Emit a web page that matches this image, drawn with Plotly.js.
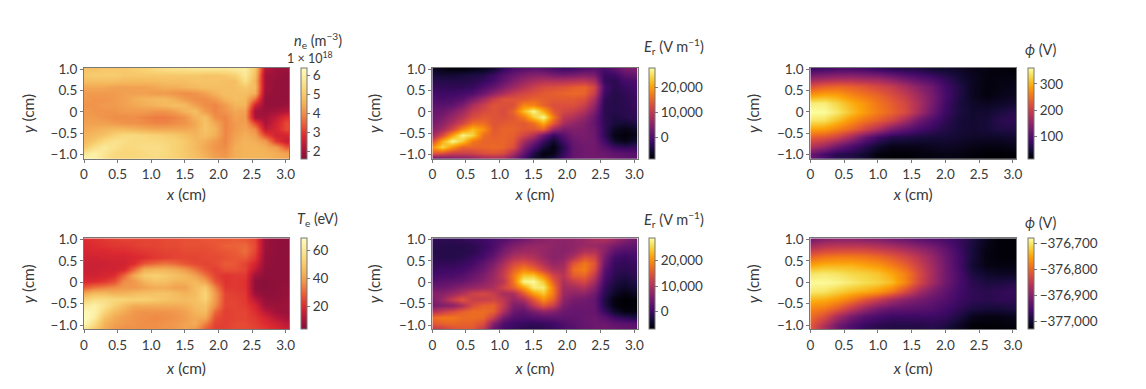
<!DOCTYPE html>
<html><head><meta charset="utf-8">
<script src="https://cdn.plot.ly/plotly-3.0.1.min.js"></script>
<style>html,body{margin:0;padding:0;background:#fff}#c{width:1146px;height:389px}</style>
</head><body><div id="c"></div>
<script>
const xsFine=[0,.15,.3,.45,.6,.75,.9,1.05,1.2,1.35,1.5,1.65,1.8,1.95,2.1,2.25,2.4,2.55,2.7,2.85,3];
const ysFine=[1,.86,.72,.58,.44,.3,.16,.02,-.12,-.26,-.4,-.54,-.68,-.82,-.96,-1.1];
const xsCoarse=[0,.2,.4,.6,.8,1,1.2,1.4,1.6,1.8,2,2.2,2.4,2.6,2.8,3];
const ysCoarse=[1,.8,.6,.4,.2,0,-.2,-.4,-.6,-.8,-1];
const neValues=[
[4.9,4.9,5.0,5.0,5.0,5.1,5.2,5.4,5.5,5.6,5.6,5.7,5.7,5.7,5.7,5.8,5.9,5.0,2.2,1.9,1.9],
[5.0,5.1,5.1,5.1,5.0,5.0,5.0,5.0,5.0,5.0,5.0,5.0,4.9,4.9,5.0,5.2,5.8,4.8,2.0,1.9,1.8],
[4.8,4.8,4.8,4.8,4.7,4.7,4.7,4.7,4.8,4.8,4.8,4.9,4.9,4.9,4.8,4.8,5.5,4.6,2.0,1.8,1.8],
[4.4,4.4,4.4,4.3,4.3,4.3,4.3,4.4,4.5,4.5,4.6,4.7,4.8,4.8,4.8,4.8,5.0,4.7,2.0,1.8,1.8],
[4.2,4.2,4.2,4.2,4.3,4.3,4.3,4.2,4.2,4.1,4.0,4.1,4.3,4.6,4.8,4.8,4.8,4.5,1.9,1.8,1.8],
[4.2,4.1,4.1,4.2,4.3,4.5,4.6,4.7,4.7,4.5,4.2,4.0,4.0,4.2,4.6,4.8,4.7,3.6,1.8,1.8,1.8],
[4.1,4.1,4.2,4.2,4.3,4.4,4.5,4.6,4.7,4.8,4.7,4.3,4.0,3.9,4.2,4.6,4.6,2.6,1.8,1.8,1.9],
[4.2,4.1,4.1,4.1,4.2,4.2,4.2,4.1,4.1,4.3,4.6,4.8,4.2,3.9,4.1,4.4,4.3,2.0,1.9,2.0,2.2],
[4.2,4.2,4.1,4.0,4.0,4.0,3.9,3.8,3.8,3.9,4.1,4.6,4.8,4.0,3.9,4.3,4.2,2.1,2.0,2.4,2.9],
[4.3,4.3,4.3,4.2,4.1,4.1,4.0,3.9,3.9,4.0,4.1,4.4,4.9,4.4,3.9,4.2,4.3,3.2,2.1,2.6,3.2],
[4.4,4.5,4.6,4.7,4.7,4.6,4.5,4.4,4.4,4.4,4.4,4.5,4.9,4.6,3.9,4.2,4.4,4.0,2.4,2.7,3.2],
[4.6,4.7,4.9,5.2,5.4,5.4,5.3,5.2,5.1,5.0,4.8,4.6,4.8,4.5,3.9,4.3,4.5,4.3,3.2,2.6,2.7],
[4.7,5.0,5.4,5.6,5.5,5.4,5.4,5.4,5.3,5.2,5.0,4.7,4.5,4.2,3.9,4.4,4.6,4.5,4.2,3.0,2.5],
[5.0,5.5,5.8,5.6,5.4,5.4,5.5,5.5,5.4,5.2,5.0,4.7,4.4,4.1,4.0,4.5,4.6,4.6,4.5,4.2,3.4],
[5.7,6.0,5.7,5.4,5.3,5.3,5.4,5.5,5.4,5.2,5.0,4.8,4.5,4.2,4.1,4.5,4.6,4.6,4.6,4.5,4.3],
[6.2,6.0,5.6,5.3,5.3,5.3,5.4,5.4,5.3,5.2,5.0,4.8,4.6,4.3,4.2,4.5,4.6,4.6,4.6,4.5,4.4]];
const teValues=[
[20,21,22,23,24,24,24,24,25,25,26,26,27,27,27,28,27,24,7,5,5],
[19,20,21,22,22,23,24,24,25,25,26,26,26,27,29,29,30,25,7,5,5],
[18,19,19,20,20,21,22,23,24,24,25,25,25,26,27,28,31,24,7,5,5],
[17,17,18,18,18,19,20,22,23,24,24,24,25,25,26,27,28,22,6,5,5],
[16,16,16,17,17,20,27,30,32,30,27,25,24,25,28,27,24,18,6,5,5],
[16,16,17,17,19,30,42,44,44,42,38,32,26,23,26,26,24,14,5,5,5],
[17,17,18,20,30,42,50,52,50,47,45,40,32,24,21,22,22,8,5,5,5],
[19,20,22,26,36,38,44,48,47,44,44,45,40,27,21,22,21,5,4,5,5],
[28,32,34,36,38,38,40,42,42,40,40,46,50,34,22,22,21,5,4,5,6],
[42,46,46,44,44,46,47,48,48,46,44,46,53,38,24,23,22,7,5,5,6],
[52,56,56,54,53,52,52,50,48,47,46,47,52,38,24,24,22,13,6,6,7],
[60,63,58,52,46,42,42,42,42,42,43,46,48,36,24,24,23,18,8,7,7],
[66,64,54,46,42,38,37,37,37,38,40,44,46,30,23,24,24,20,13,8,7],
[68,62,48,42,39,37,36,35,36,37,39,42,42,26,23,24,24,22,18,12,9],
[66,56,44,40,38,37,36,36,37,38,40,42,34,24,23,25,25,23,20,17,13],
[58,50,42,38,36,36,36,36,37,38,40,38,28,23,23,25,25,24,22,19,16]];
const erTopValues=[
[-6000,-7000,-7500,-7500,-7000,-6500,-5000,-2000,0,1000,1500,1000,0,-1000,-500,500,1000,-500,1000,3500,4000],
[-4500,-5000,-5000,-4500,-4000,-3500,-1500,500,2500,4000,5000,5000,4000,3500,4000,5000,4000,-2000,-1500,1000,2000],
[-3000,-3500,-3500,-3500,-3000,-2000,-500,2000,4500,6500,8000,9000,9000,9000,9500,10000,8000,-2000,-3000,-1000,-500],
[-2000,-2500,-2500,-2500,-2000,0,2000,4500,7000,9000,11000,12500,13000,13500,14500,15000,12000,-500,-3000,-2000,-1000],
[-1000,-1500,-1500,-1000,0,2500,5500,8000,10500,12000,13000,14000,14500,15000,15500,15000,11000,-1500,-3500,-2500,-1500],
[0,-500,0,1000,4000,7500,11000,13500,13500,14000,15000,14500,14000,14000,14000,13000,8000,-2500,-3500,-3000,-2000],
[1000,1000,1500,4000,8000,11000,13500,13000,13000,18000,18000,15000,13000,13000,13000,11000,6000,-3000,-3500,-3000,-2000],
[2000,2500,4500,7000,10500,12500,13500,12500,15000,22000,27000,21000,14000,12000,11000,8500,4000,-3000,-3500,-3000,-2500],
[2500,4000,6500,9000,12500,14000,13500,13000,14000,17000,23000,27000,17000,10000,8500,6000,2500,-3000,-4000,-3500,-2500],
[3500,5500,8500,12000,16000,16000,13500,14000,14500,14000,16000,21000,14000,8000,6000,4500,2000,-2500,-4500,-5000,-4000],
[5000,7500,12000,18000,22000,19000,14000,15000,15000,14000,14000,15000,7000,4000,4500,4000,2500,-2500,-6000,-7000,-6000],
[7000,12500,20000,26500,24000,16000,14500,15000,14500,12000,9000,3000,-2000,1000,3500,3800,2800,-2500,-7000,-8000,-7000],
[12500,21000,27000,23000,17000,15000,15000,15000,14000,8000,3500,-1500,-5500,-1000,2500,3500,3000,-1000,-5500,-7000,-5500],
[19000,24000,19000,15000,15000,15000,15500,15000,13000,5000,0,-4500,-7500,-3000,2000,3000,3000,1000,-1500,-2500,-2000],
[14000,13000,11000,11000,11500,13000,13500,12500,8000,2000,-3500,-7500,-7000,-2000,2000,3000,3000,2500,1500,1000,500],
[1000,2000,3000,3500,4500,6000,7000,6500,3500,-1000,-5500,-6500,-4000,-500,2000,3000,3000,3000,2500,2000,1500]];
const erBottomValues=[
[-1000,-1500,-1500,-1000,-500,0,1000,2000,3500,4500,6000,6500,7000,7000,7000,8000,9000,9500,8000,6000,4500],
[-1500,-2000,-2000,-2000,-1500,-500,1000,3500,5500,7000,7500,7500,7000,6500,7000,8000,8000,7000,5000,3500,3000],
[-2000,-2000,-2000,-2000,-1500,0,2000,5000,7500,8500,8500,7500,6500,6500,7500,10000,10000,6500,2500,1500,1500],
[-1500,-2000,-2000,-1500,-500,1000,3500,7000,10000,11000,10000,8000,6500,7000,10000,14500,13000,5000,500,-500,500],
[-1000,-1000,-1000,-500,500,3000,5500,9500,13500,15000,13000,10000,7500,8500,15000,18000,15000,4000,-500,-1000,-500],
[-500,0,0,500,2000,4000,7000,11000,16000,19000,17000,13000,9500,9500,17000,18500,14000,2500,-1000,-1500,-1000],
[500,1000,1000,2000,3500,5500,8000,12000,18000,24000,24000,19000,13000,10500,15500,16500,11500,1500,-1500,-2500,-1500],
[2000,2500,3000,3500,5000,6500,8500,11000,18000,28000,28500,24000,15500,9500,12000,13500,9000,500,-2500,-3500,-2500],
[4000,4000,5000,6500,7500,8500,9500,13000,16000,21000,27000,27000,18000,8500,9000,10000,6500,-500,-3500,-4500,-3500],
[6000,6500,8000,10000,12500,13500,12000,9000,9500,15000,21000,24000,18000,8000,7000,7000,4500,-1500,-4500,-6000,-5000],
[5500,8000,12000,15000,12000,12000,13000,11000,7500,9500,15000,20000,16000,7000,5000,4500,3500,-2500,-6000,-6900,-6500],
[4500,6000,6500,9500,14000,16000,16000,11500,5500,5500,11000,15000,12000,5500,4000,4000,3500,-2000,-6000,-6800,-6500],
[10000,12000,14000,16000,17000,17000,16000,9500,4000,3000,5000,7000,6000,4000,3500,3500,3500,-500,-4000,-6000,-6000],
[17000,18000,18000,17000,17000,16500,12000,5000,2000,1500,2000,2500,3000,3000,3000,3800,4000,2500,0,-1500,-2500],
[15000,16000,16500,16000,16000,14000,6000,1500,0,-500,-1000,-500,0,1500,2500,3500,4000,4000,3000,2500,2000],
[11000,12000,14000,15000,15000,11000,3500,500,-500,-1500,-2000,-1500,-500,1000,2000,3500,4000,4500,4000,3500,3000]];
const phiTopValues=[
[85,90,95,95,90,80,70,65,60,50,45,40,30,25,20,18],
[150,160,165,165,160,155,140,120,105,90,70,50,35,24,24,25],
[220,235,240,235,225,210,195,170,145,120,85,60,35,22,26,30],
[285,295,290,270,255,240,220,195,165,130,90,60,35,22,30,35],
[345,345,325,300,280,255,235,210,175,130,85,55,40,35,40,45],
[360,358,340,310,285,260,240,215,170,120,80,55,45,45,55,65],
[340,335,310,280,255,235,210,170,125,95,70,50,45,50,65,70],
[290,285,265,240,210,175,135,110,90,75,60,50,45,50,60,60],
[235,225,205,165,120,85,65,60,55,50,50,45,40,40,40,45],
[185,160,125,95,70,45,30,30,30,35,38,35,28,25,25,30],
[120,90,65,60,45,22,17,17,22,25,28,25,20,17,16,18]];
const phiBottomBase=-377000;
const phiBottomValues=[
[85,100,105,105,100,95,85,75,65,55,45,30,10,-15,-28,-28],
[140,155,160,160,160,150,140,125,110,90,65,35,5,-20,-28,-28],
[195,210,215,215,210,200,185,165,140,110,75,40,5,-22,-28,-28],
[250,260,260,260,250,240,220,195,160,120,80,40,0,-20,-22,-22],
[295,300,295,285,280,270,250,220,175,125,80,45,10,-5,-10,-10],
[315,315,310,300,290,280,265,225,170,120,80,45,20,10,10,15],
[300,295,280,265,255,240,215,170,125,90,65,40,25,20,25,30],
[260,255,240,215,185,155,125,100,85,70,55,35,25,20,25,25],
[225,215,190,150,115,85,70,65,60,55,40,25,10,5,5,10],
[205,175,125,85,60,45,35,35,35,35,30,10,-15,-20,-20,-15],
[185,130,80,50,30,20,15,15,15,20,10,-10,-28,-30,-28,-25]].map(r=>r.map(d=>d+phiBottomBase));

const warmScale=[[0,'#860f3a'],[.125,'#b5163a'],[.25,'#dc2a30'],[.375,'#ea5a36'],[.5,'#ef8f48'],[.625,'#f4b55a'],[.75,'#f8d274'],[.875,'#fbe99a'],[1,'#fffdc0']];
const inferno=[[0,'#000004'],[.1,'#160b39'],[.2,'#420a68'],[.3,'#6a176e'],[.4,'#932667'],[.5,'#bc3754'],[.6,'#dd513a'],[.7,'#f37819'],[.8,'#fca50a'],[.9,'#f6d746'],[1,'#fcffa4']];

const W=1146,H=389,ink='#3a3a3a',frame='#777';
const family='Lato, "Open Sans", sans-serif';
const font={family:family,size:13.5,color:ink};
const titleFont={family:family,size:15.5,color:ink};
const xTickVals=[0,.5,1,1.5,2,2.5,3], xTickText=['0','0.5','1.0','1.5','2.0','2.5','3.0'];
const yTickVals=[1,.5,0,-.5,-1], yTickText=['1.0','0.5','0','−0.5','−1.0'];
const columns=[[84,289,301],[432.3,637.7,649.3],[810.3,1016.3,1028.3]];
const rows=[[68,158.7],[238.3,329.3]];
const panels=[
 {c:0,r:0,x:xsFine,y:ysFine,z:neValues,cs:warmScale,zmin:1.63,zmax:6.4,tv:[2,3,4,5,6],tt:['2','3','4','5','6'],so:12},
 {c:1,r:0,x:xsFine,y:ysFine,z:erTopValues,cs:inferno,zmin:-8330,zmax:27660,tv:[0,10000,20000],tt:['0','10,000','20,000'],so:14},
 {c:2,r:0,x:xsCoarse,y:ysCoarse,z:phiTopValues,cs:inferno,zmin:16,zmax:361,tv:[100,200,300],tt:['100','200','300'],so:13},
 {c:0,r:1,x:xsFine,y:ysFine,z:teValues,cs:warmScale,zmin:3.4,zmax:68.4,tv:[20,40,60],tt:['20','40','60'],so:12},
 {c:1,r:1,x:xsFine,y:ysFine,z:erBottomValues,cs:inferno,zmin:-6900,zmax:28780,tv:[0,10000,20000],tt:['0','10,000','20,000'],so:14},
 {c:2,r:1,x:xsCoarse,y:ysCoarse,z:phiBottomValues,cs:inferno,zmin:-377031,zmax:-376681,tv:[-377000,-376900,-376800,-376700],tt:['−377,000','−376,900','−376,800','−376,700'],so:13}
];
const er='<i>E</i><sub>r</sub> (V m<sup>−1</sup>)', phi='<i>ϕ</i> (V)';
const labels=[
 ['<i>n</i><sub>e</sub> (m<sup>−3</sup>)',318,40],['1 × 10<sup>18</sup>',310,57.5],
 ['<i>T</i><sub>e</sub> (eV)',317,219],[er,674,47],[er,674,219],[phi,1040,50],[phi,1040,222]
];
const layout={width:W,height:H,margin:{l:0,r:0,t:0,b:0},paper_bgcolor:'#fff',plot_bgcolor:'#fff',font:font,showlegend:false,
 annotations:labels.map((a,i)=>({text:a[0],x:a[1]/W,y:1-a[2]/H,xref:'paper',yref:'paper',xanchor:'center',yanchor:'middle',showarrow:false,font:{family:family,size:i==1?12.5:14.5,color:ink}}))};
const data=panels.map((p,i)=>{
 const n=i+1,[x0,x1,cb]=columns[p.c],[y0,y1]=rows[p.r];
 layout['xaxis'+n]={domain:[x0/W,x1/W],anchor:'y'+n,range:[0,3.05],tickmode:'array',tickvals:xTickVals,ticktext:xTickText,ticks:'outside',ticklen:3,tickcolor:frame,showgrid:false,zeroline:false,showline:true,mirror:true,linecolor:frame,linewidth:1,tickfont:font,
  title:{text:'<i>x</i> (cm)',font:titleFont,standoff:p.r?11:8}};
 layout['yaxis'+n]={domain:[1-y1/H,1-y0/H],anchor:'x'+n,range:[-1.1,1.03],tickmode:'array',tickvals:yTickVals,ticktext:yTickText,ticks:'outside',ticklen:3,tickcolor:frame,showgrid:false,zeroline:false,showline:true,mirror:true,linecolor:frame,linewidth:1,tickfont:font,
  title:{text:'<i>y</i> (cm)',font:titleFont,standoff:p.so}};
 return {type:'heatmap',x:p.x,y:p.y,z:p.z,xaxis:'x'+n,yaxis:'y'+n,zsmooth:'best',colorscale:p.cs,zmin:p.zmin,zmax:p.zmax,hoverinfo:'skip',
  colorbar:{x:cb/W,xanchor:'left',xpad:0,ypad:0,y:1-y1/H,yanchor:'bottom',len:(y1-y0)/H,lenmode:'fraction',thickness:5.5,thicknessmode:'pixels',outlinecolor:frame,outlinewidth:1,borderwidth:0,ticks:'outside',ticklen:3,tickcolor:frame,tickmode:'array',tickvals:p.tv,ticktext:p.tt,tickfont:font}};
});
Plotly.newPlot('c',data,layout,{displayModeBar:false,staticPlot:true});
</script></body></html>
